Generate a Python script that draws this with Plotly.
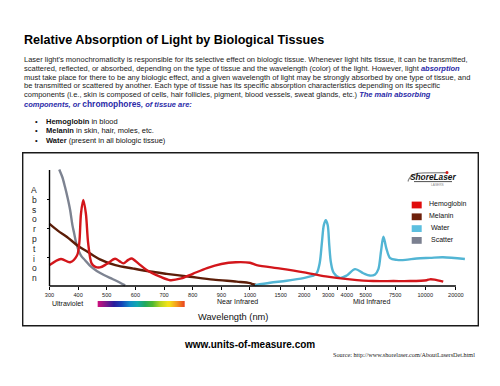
import numpy as np
import plotly.graph_objects as go

PAGE_W, PAGE_H = 500, 386
OFF = 8                      # default body margin of the html page
W, H = PAGE_W - OFF, PAGE_H - OFF

# ---------------- data ----------------
TICK_NM = [300, 400, 500, 600, 700, 800, 900, 1000, 1500, 2000, 3000, 4000, 5000, 7500, 10000, 20000]
TICK_LABELS = [str(v) for v in TICK_NM]
# broken wavelength axis: position of each labelled wavelength along the axis
TICK_POS = [0, 1, 2, 3, 4, 5, 6, 7, 8.07, 8.89, 9.73, 10.38, 11.04, 12.07, 13.12, 14.19]
MINOR_NM = [2500, 3500]

HB_NM = [300, 340, 372, 396, 404, 410, 418, 427, 435, 447, 460, 476, 500, 529, 545, 558, 575, 587,
         610, 639, 686, 721, 760, 800, 850, 900, 950, 1000, 1109, 1500, 2000, 2900, 4170, 5630,
         7360, 8730, 10500, 11500, 13000, 15870]
HB_ABS = [0.72, 0.93, 0.82, 1.05, 1.48, 2.5, 2.97, 2.5, 1.48, 0.78, 0.66, 0.64, 0.76, 0.94, 0.85, 0.78, 0.9, 0.95,
          0.78, 0.55, 0.32, 0.2, 0.26, 0.42, 0.62, 0.76, 0.82, 0.8, 0.72, 0.6, 0.47, 0.33, 0.23, 0.17,
          0.17, 0.17, 0.2, 0.23, 0.22, 0.15]

MEL_NM = [300, 330, 360, 400, 430, 476, 530, 593, 650, 709, 790, 872, 954, 1000, 1050, 1100]
MEL_ABS = [2.14, 1.9, 1.7, 1.38, 1.2, 0.92, 0.72, 0.6, 0.5, 0.42, 0.32, 0.22, 0.15, 0.1, 0.06, 0.04]

WAT_NM = [1081, 1326, 1629, 1985, 2250, 2388, 2530, 2650, 2740, 2820, 2900, 2980, 3060, 3150, 3300,
          3640, 4000, 4440, 4874, 5350, 5800, 6075, 6300, 6502, 6750, 7073, 7640, 8350, 9290, 11530,
          15770, 22930]
WAT_ABS = [0.03, 0.11, 0.18, 0.27, 0.33, 0.36, 0.45, 0.8, 1.5, 2.1, 2.27, 2.1, 1.4, 0.8, 0.45,
           0.28, 0.36, 0.58, 0.44, 0.36, 0.4, 0.58, 1.2, 1.70, 1.3, 0.96, 0.9, 0.9, 0.95, 0.97,
           0.99, 0.93]

SCAT_NM = [334, 345, 354, 363, 372, 380, 386, 395, 410, 425, 441, 465, 490, 520, 545, 564]
SCAT_ABS = [4.02, 3.75, 3.42, 3.05, 2.62, 2.1, 1.82, 1.42, 1.05, 0.88, 0.7, 0.52, 0.38, 0.24, 0.12, 0.02]

SERIES_NAMES = ["Hemoglobin", "Melanin", "Water", "Scatter"]
Y_TICKS = [1, 2, 3]
Y_LABEL = "Absorption"
VISIBLE_BAND_NM = [470, 770]

# ---------------- style ----------------
LINE_COLORS = {"Hemoglobin": "#d3161b", "Melanin": "#5c1d08", "Water": "#52b5d4", "Scatter": "#7d8391"}
BOX_COLORS = {"Hemoglobin": "#e00c0c", "Melanin": "#6e200a", "Water": "#5cbfdf", "Scatter": "#7b8090"}
SPECTRUM_COLORS = ["#c8107e", "#7a1a8c", "#2a1c9c", "#1444b8", "#1088c8", "#10a8b0",
                   "#20a860", "#50b830", "#b8d420", "#f4e418", "#f49a1c", "#e84420"]
SANS = "Arial, Liberation Sans, sans-serif"
SERIF = "Times New Roman, Liberation Serif, serif"
BLUE = "#2a2aa8"


def scale(nm):
    nm = np.asarray(nm, dtype=float)
    u = np.interp(nm, TICK_NM, TICK_POS)
    slope = (TICK_POS[-1] - TICK_POS[-2]) / (TICK_NM[-1] - TICK_NM[-2])
    return np.where(nm > TICK_NM[-1], TICK_POS[-1] + (nm - TICK_NM[-1]) * slope, u)


def px(x):
    """page pixel x -> paper fraction"""
    return (x - OFF) / W


def py(y):
    """page pixel y -> paper fraction"""
    return 1 - (y - OFF) / H


# axis geometry (page pixels)
X0PX, PXU = 49.5, 28.64
Y0PX, PYU = 286.0, 29.0
XR = [-0.12, 14.6]
YR = [-0.15, 4.25]
x_dom = [px(X0PX + XR[0] * PXU), px(X0PX + XR[1] * PXU)]
y_dom = [py(Y0PX - YR[0] * PYU), py(Y0PX - YR[1] * PYU)]

fig = go.Figure()

# spectrum bar
n_cells = 86
fig.add_trace(go.Heatmap(
    x=np.linspace(scale(VISIBLE_BAND_NM[0]), scale(VISIBLE_BAND_NM[1]), n_cells),
    y=[0.5], z=[list(range(n_cells))], zmin=0, zmax=n_cells - 1,
    colorscale=[[i / (len(SPECTRUM_COLORS) - 1), c] for i, c in enumerate(SPECTRUM_COLORS)],
    showscale=False, hoverinfo="skip", xaxis="x", yaxis="y2"))

series = {
    "Scatter": (SCAT_NM, SCAT_ABS),
    "Melanin": (MEL_NM, MEL_ABS),
    "Water": (WAT_NM, WAT_ABS),
    "Hemoglobin": (HB_NM, HB_ABS),
}
for name, (nm, val) in series.items():
    fig.add_trace(go.Scatter(
        x=scale(nm), y=val, mode="lines", name=name,
        line=dict(color=LINE_COLORS[name], width=2.4, shape="spline", smoothing=0.9),
        showlegend=False, hoverinfo="skip"))

ann = []


def note(x, y, text, size, color="#111", anchor="left", family=SANS, yanchor="middle"):
    ann.append(dict(x=px(x), y=py(y), xref="paper", yref="paper", text=text, showarrow=False,
                    xanchor=anchor, yanchor=yanchor, borderpad=0,
                    font=dict(size=size, color=color, family=family)))


# page title and text
note(22.5, 40, "<b>Relative Absorption of Light by Biological Tissues</b>", 12.6, "#000")
para = [
    "Laser light's monochromaticity is responsible for its selective effect on biologic tissue. Whenever light hits tissue, it can be transmitted,",
    "scattered, reflected, or absorbed, depending on the type of tissue and the wavelength (color) of the light. However, light "
    f"<span style='color:{BLUE}'><b><i>absorption</i></b></span>",
    "must take place for there to be any biologic effect, and a given wavelength of light may be strongly absorbed by one type of tissue, and",
    "be transmitted or scattered by another. Each type of tissue has its specific absorption characteristics depending on its specific",
    "components (i.e., skin is composed of cells, hair follicles, pigment, blood vessels, sweat glands, etc.) "
    f"<span style='color:{BLUE}'><b><i>The main absorbing</i></b></span>",
    f"<span style='color:{BLUE}'><b><i>components, or </i></b><b><span style='font-size:8.4px'>chromophores</span></b>"
    "<b><i>, of tissue are:</i></b></span>",
]
for i, line in enumerate(para):
    note(22.5, 59.5 + i * 8.8, line, 7.5, "#222")

bullets = ["<b>Hemoglobin</b> in blood", "<b>Melanin</b> in skin, hair, moles, etc.",
           "<b>Water</b> (present in all biologic tissue)"]
for i, b in enumerate(bullets):
    note(33.5, 121 + i * 9.6, "•", 7.5, "#111")
    note(45, 121 + i * 9.6, b, 7.5, "#111")

# axis captions
for i, ch in enumerate(Y_LABEL):
    note(34, 190 + i * 9.8, ch, 8.5, "#222", anchor="center")
note(67.5, 303.3, "Ultraviolet", 7, "#111", anchor="center")
note(237.5, 301.2, "Near Infrared", 7, "#111", anchor="center")
note(371.7, 301.7, "Mid Infrared", 7, "#111", anchor="center")
note(233, 316.5, "Wavelength (nm)", 9.3, "#111", anchor="center")

# legend
shapes = []
for i, name in enumerate(SERIES_NAMES):
    yc = 205 + i * 11.8
    shapes.append(dict(type="rect", xref="paper", yref="paper", x0=px(411.7), x1=px(421.7),
                       y0=py(yc + 3.4), y1=py(yc - 3.4), fillcolor=BOX_COLORS[name],
                       line=dict(width=0)))
    note(427.5 if i < 2 else 430, yc - 1.2, name, 7, "#111")

# logo
note(433, 177, "<b><i>ShoreLaser</i></b>", 8.3, "#111", anchor="center")
note(437, 184.6, "LASERS", 3.2, "#888", anchor="center")
shapes.append(dict(type="path", xref="paper", yref="paper",
                   path=f"M {px(408)} {py(181.5)} Q {px(410)} {py(172.5)} {px(425)} {py(172.8)} L {px(446)} {py(172.6)}",
                   line=dict(color="#8a8a8a", width=1.2)))
shapes.append(dict(type="line", xref="paper", yref="paper", x0=px(414), x1=px(452), y0=py(181.6), y1=py(181.6),
                   line=dict(color="#222", width=0.8)))
shapes.append(dict(type="circle", xref="paper", yref="paper", x0=px(445.5), x1=px(448.5), y0=py(171), y1=py(174),
                   fillcolor="#d01818", line=dict(width=0)))

# footer
note(249.7, 344.7, "<b>www.units-of-measure.com</b>", 10, "#000", anchor="center")
note(331.5, 354, "Source: http://www.shorelaser.com/AboutLasersDet.html", 6.2, "#222", family=SERIF)

# chart frame and axis lines
shapes.append(dict(type="rect", xref="paper", yref="paper", x0=px(22.7), x1=px(478.3),
                   y0=py(325.7), y1=py(152.7), line=dict(color="#1a1a1a", width=1.4)))
shapes.append(dict(type="line", xref="x", yref="y", x0=float(scale(TICK_NM[0])), x1=float(scale(TICK_NM[-1])),
                   y0=0, y1=0, line=dict(color="#000", width=1.4)))
shapes.append(dict(type="line", xref="x", yref="y", x0=float(scale(TICK_NM[0])), x1=float(scale(TICK_NM[0])),
                   y0=0, y1=4, line=dict(color="#000", width=1.4)))

fig.update_layout(
    width=W, height=H, margin=dict(l=0, r=0, t=0, b=0),
    paper_bgcolor="white", plot_bgcolor="rgba(0,0,0,0)", showlegend=False,
    xaxis=dict(domain=x_dom, range=XR, anchor="free", position=py(Y0PX), showline=False,
               showgrid=False, zeroline=False, tickmode="array",
               tickvals=scale(TICK_NM).tolist(), ticktext=TICK_LABELS,
               ticks="outside", ticklen=3, tickwidth=1, tickcolor="#000",
               tickfont=dict(size=5.6, color="#222", family=SANS),
               minor=dict(tickvals=scale(MINOR_NM).tolist(), ticks="outside", ticklen=3,
                          tickwidth=1, tickcolor="#000")),
    yaxis=dict(domain=y_dom, range=YR, anchor="free", position=px(X0PX), showline=False,
               showgrid=False, zeroline=False, tickmode="array", tickvals=Y_TICKS,
               showticklabels=False, ticks="outside", ticklen=3, tickwidth=1, tickcolor="#000"),
    yaxis2=dict(domain=[py(307.3), py(301)], range=[0, 1], visible=False, anchor="x"),
    annotations=ann, shapes=shapes,
)

fig.write_html("out.html")
